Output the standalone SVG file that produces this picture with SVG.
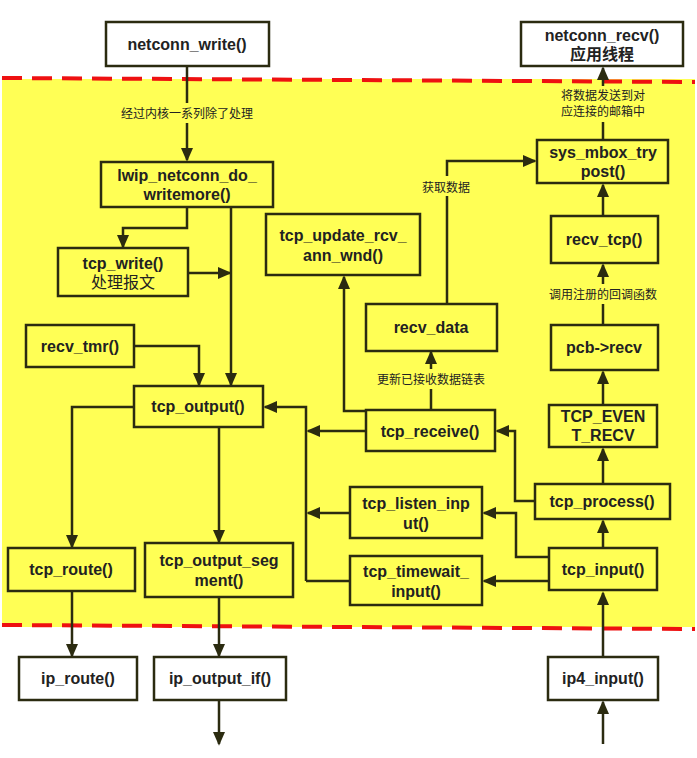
<svg xmlns="http://www.w3.org/2000/svg" width="697" height="758" viewBox="0 0 697 758">
<style>
.n{fill:#ffff55;stroke:#2b2b10;stroke-width:2.5}
.w{fill:#fff;stroke:#2b2b10;stroke-width:2.5}
.t{font-family:"Liberation Sans","Noto Sans CJK SC",sans-serif;font-size:16px;font-weight:bold;fill:#222;text-anchor:middle}
.l{font-family:"Noto Sans CJK SC",sans-serif;font-size:12px;fill:#222;text-anchor:middle}
.c{fill:none;stroke:#2b2b10;stroke-width:2.5}
</style>
<defs><marker id="a" markerWidth="10" markerHeight="10" refX="9" refY="5" orient="auto" markerUnits="userSpaceOnUse"><path d="M0,0 L10,5 L0,10z" fill="#2b2b10"/></marker>
<marker id="b" viewBox="0 0 16 14" markerWidth="14" markerHeight="12" refX="14" refY="7" orient="auto" markerUnits="userSpaceOnUse"><path d="M0,0 L16,7 L0,14z" fill="#2b2b10"/></marker></defs>
<rect x="2" y="79" width="693" height="548" fill="#ffff55"/>
<path d="M2,78 L695,82 M2,625 L695,629" stroke="#ee1111" stroke-width="4" stroke-dasharray="20,10" fill="none"/>
<g id="connectors" class="c">
<path d="M187,66 V160" marker-end="url(#b)"/>
<path d="M187,207 V228 H123 V247" marker-end="url(#b)"/>
<path d="M188,273 H230" marker-end="url(#b)"/>
<path d="M231,207 V385" marker-end="url(#b)"/>
<path d="M134,346 H199 V385" marker-end="url(#b)"/>
<path d="M134,407 H72 V547" marker-end="url(#b)"/>
<path d="M219,427 V542" marker-end="url(#b)"/>
<path d="M72,591 V628"/>
<path d="M219,597 V628"/>
<path d="M219,700 V744" marker-end="url(#b)"/>
<path d="M306,581 V407 H265" marker-end="url(#b)"/>
<path d="M366,431 H308" marker-end="url(#b)"/>
<path d="M350,513 H308" marker-end="url(#b)"/>
<path d="M350,581 H306"/>
<path d="M366,411 H344 V277" marker-end="url(#b)"/>
<path d="M431,410 V352" marker-end="url(#b)"/>
<path d="M447,304 V161 H535" marker-end="url(#b)"/>
<path d="M535,501 H515 V431 H497" marker-end="url(#b)"/>
<path d="M549,557 H516 V513 H484" marker-end="url(#b)"/>
<path d="M549,581 H484" marker-end="url(#b)"/>
<path d="M603,548 V521" marker-end="url(#b)"/>
<path d="M603,484 V449" marker-end="url(#b)"/>
<path d="M603,405 V372" marker-end="url(#b)"/>
<path d="M603,325 V265" marker-end="url(#b)"/>
<path d="M603,216 V185" marker-end="url(#b)"/>
<path d="M603,140 V68" marker-end="url(#b)"/>
<path d="M603,657 V593" marker-end="url(#b)"/>
<path d="M603,744 V702" marker-end="url(#b)"/>
<path d="M72,628 V656" marker-end="url(#b)"/>
<path d="M219,628 V656" marker-end="url(#b)"/>
</g>
<rect x="110" y="103" width="155" height="20" fill="#ffff55"/>
<text class="l" x="187" y="118">经过内核一系列除了处理</text>
<rect x="408" y="176" width="70" height="20" fill="#ffff55"/>
<text class="l" x="446" y="192">获取数据</text>
<rect x="368" y="369" width="125" height="20" fill="#ffff55"/>
<text class="l" x="431" y="384">更新已接收数据链表</text>
<rect x="540" y="284" width="126" height="20" fill="#ffff55"/>
<text class="l" x="603" y="299">调用注册的回调函数</text>
<rect x="550" y="86" width="106" height="36" fill="#ffff55"/>
<text class="l" x="603" y="100">将数据发送到对</text>
<text class="l" x="603" y="116">应连接的邮箱中</text>
<g id="netconn_write"><rect class="w" x="106" y="22" width="163" height="44"/><text class="t" x="187" y="50">netconn_write()</text></g>
<g id="netconn_recv"><rect class="w" x="521" y="22" width="162" height="44"/><text class="t" x="602" y="41">netconn_recv()</text><text class="t" x="602" y="60">应用线程</text></g>
<g id="lwip"><rect class="n" x="101" y="162" width="172" height="45"/><text class="t" x="187" y="181">lwip_netconn_do_</text><text class="t" x="187" y="200">writemore()</text></g>
<g id="tcp_write"><rect class="n" x="58" y="248" width="130" height="48"/><text class="t" x="123" y="269">tcp_write()</text><text class="t" x="123" y="288" style="font-weight:normal">处理报文</text></g>
<g id="recv_tmr"><rect class="n" x="26" y="325" width="108" height="42"/><text class="t" x="80" y="352">recv_tmr()</text></g>
<g id="tcp_output"><rect class="n" x="134" y="386" width="129" height="41"/><text class="t" x="198" y="412">tcp_output()</text></g>
<g id="tcp_route"><rect class="n" x="8" y="548" width="127" height="43"/><text class="t" x="71" y="575">tcp_route()</text></g>
<g id="tcp_output_segment"><rect class="n" x="145" y="543" width="148" height="54"/><text class="t" x="219" y="566">tcp_output_seg</text><text class="t" x="219" y="586">ment()</text></g>
<g id="ip_route"><rect class="w" x="19" y="657" width="118" height="43"/><text class="t" x="78" y="684">ip_route()</text></g>
<g id="ip_output_if"><rect class="w" x="154" y="657" width="132" height="43"/><text class="t" x="220" y="684">ip_output_if()</text></g>
<g id="tcp_update"><rect class="n" x="266" y="214" width="154" height="61"/><text class="t" x="343" y="241">tcp_update_rcv_</text><text class="t" x="343" y="261">ann_wnd()</text></g>
<g id="recv_data"><rect class="n" x="366" y="304" width="131" height="47"/><text class="t" x="431" y="333">recv_data</text></g>
<g id="tcp_receive"><rect class="n" x="366" y="410" width="129" height="41"/><text class="t" x="430" y="437">tcp_receive()</text></g>
<g id="tcp_listen_input"><rect class="n" x="350" y="487" width="132" height="51"/><text class="t" x="416" y="509">tcp_listen_inp</text><text class="t" x="416" y="529">ut()</text></g>
<g id="tcp_timewait_input"><rect class="n" x="350" y="556" width="132" height="49"/><text class="t" x="416" y="577">tcp_timewait_</text><text class="t" x="416" y="597">input()</text></g>
<g id="sys_mbox"><rect class="n" x="537" y="140" width="131" height="43"/><text class="t" x="603" y="158">sys_mbox_try</text><text class="t" x="603" y="177">post()</text></g>
<g id="recv_tcp"><rect class="n" x="551" y="216" width="107" height="47"/><text class="t" x="604" y="245">recv_tcp()</text></g>
<g id="pcb_recv"><rect class="n" x="551" y="325" width="107" height="45"/><text class="t" x="604" y="353">pcb-&gt;recv</text></g>
<g id="tcp_event_recv"><rect class="n" x="549" y="405" width="108" height="42"/><text class="t" x="603" y="422">TCP_EVEN</text><text class="t" x="603" y="441">T_RECV</text></g>
<g id="tcp_process"><rect class="n" x="535" y="484" width="135" height="35"/><text class="t" x="602" y="507">tcp_process()</text></g>
<g id="tcp_input"><rect class="n" x="549" y="548" width="108" height="42"/><text class="t" x="603" y="575">tcp_input()</text></g>
<g id="ip4_input"><rect class="w" x="548" y="657" width="110" height="43"/><text class="t" x="603" y="684">ip4_input()</text></g>
</svg>
